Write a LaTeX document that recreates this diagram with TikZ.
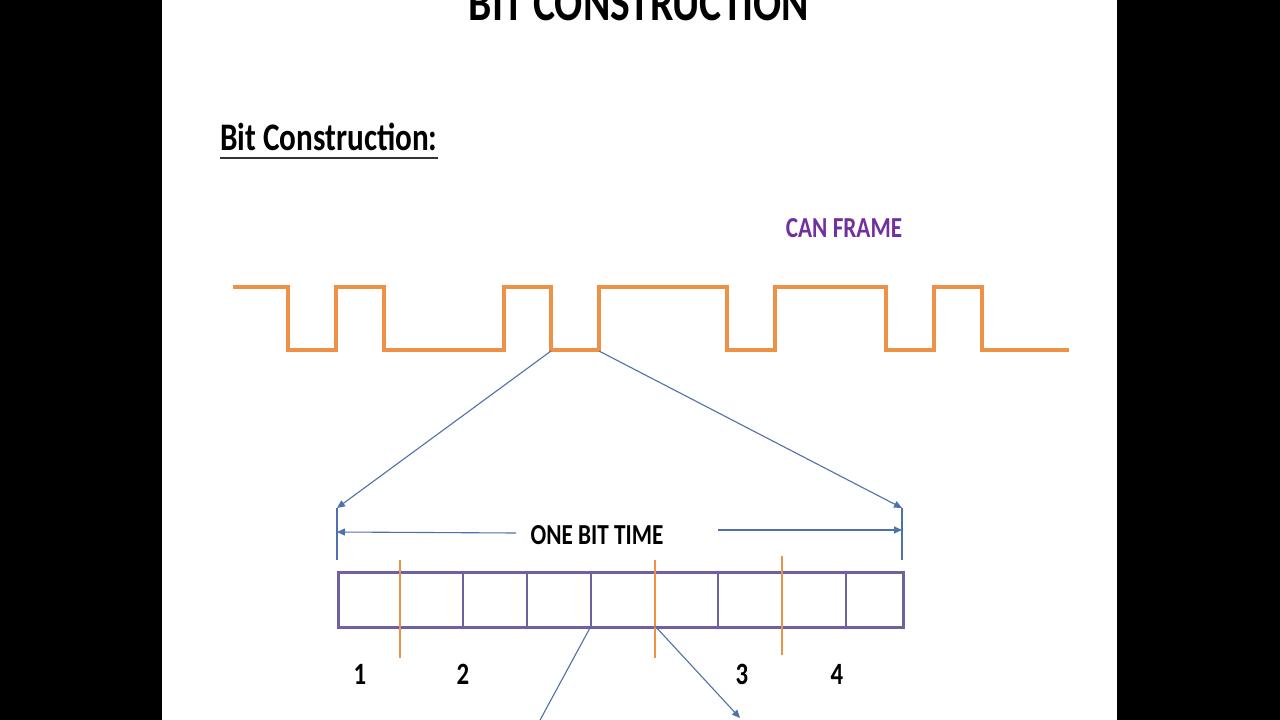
\documentclass[tikz,border=0pt]{standalone}
\usepackage{fontspec}
\setmainfont{Carlito}[FakeStretch=0.8]
\usetikzlibrary{arrows.meta,calc}
\definecolor{wave}{HTML}{ED9146}
\definecolor{conn}{HTML}{4F71AA}
\definecolor{boxc}{HTML}{7060A0}
\definecolor{canc}{HTML}{7030A0}
\tikzset{
  wavestyle/.style={draw=wave,line width=4.2pt,line join=miter},
  mark line/.style={draw=wave,line width=2.2pt},
  connline/.style={draw=conn,line width=1.1pt},
  connarrow/.style={connline,-{Triangle[length=8pt,width=7pt]}},
  cellbox/.style={draw=boxc,line width=2.8pt,minimum width=565pt,minimum height=55pt,inner sep=0pt},
  divider/.style={draw=boxc,line width=2.4pt},
  lbl/.style={font=\bfseries\fontsize{29}{33}\selectfont,inner sep=0pt,anchor=base},
  numlbl/.style={font=\bfseries\fontsize{31}{35}\selectfont,inner sep=0pt,anchor=base}
}
\begin{document}
\begin{tikzpicture}[x=1pt,y=-1pt]
\useasboundingbox (0,0) rectangle (1280,720);
\fill[black] (0,0) rectangle (1280,720);
\fill[white] (162,0) rectangle (1117,720);

% titles
\node[inner sep=0pt,anchor=base,font=\bfseries\fontsize{52}{60}\selectfont] (title) at (639,20) {BIT CONSTRUCTION};
\node[inner sep=0pt,anchor=base west,font=\bfseries\fontsize{39}{44}\selectfont] (bc) at (220,150) {Bit Construction:};
\draw[line width=2.5pt,black!80] ($(bc.base west)+(0,8)$) -- ($(bc.base east)+(0,8)$);
\node[inner sep=0pt,anchor=base,text=canc,font=\bfseries\fontsize{29}{33}\selectfont] (can) at (844,237) {CAN FRAME};

% waveform
\draw[wavestyle] (233,287) -- (288,287) -- (288,350) -- (336,350) -- (336,287) -- (384,287) -- (384,350)
  -- (504,350) -- (504,287) -- (551,287) -- (551,350) -- (599,350) -- (599,287) -- (727,287) -- (727,350)
  -- (775,350) -- (775,287) -- (886,287) -- (886,350) -- (934,350) -- (934,287) -- (982,287) -- (982,350) -- (1069,350);
\coordinate (wa) at (551,351);
\coordinate (wb) at (599,351);

% bit box
\node[cellbox,anchor=north west] (bitbox) at (337,571) {};
\foreach \x/\n in {463/d1,527/d2,591/d3,718/d4,846/d5}{
  \draw[divider] (\x,571) -- (\x,626);
  \coordinate (\n) at (\x,626);
}

% one bit time
\coordinate (tl) at (337,508);
\coordinate (tlb) at (337,560);
\coordinate (tr) at (902,508);
\coordinate (trb) at (902,560);
\draw[connline] (tl) -- (tlb);
\draw[connline] (tr) -- (trb);
\draw[connarrow] (wa) -- (tl);
\draw[connarrow] (wb) -- (tr);
\node[lbl] (obt) at (597,544) {ONE BIT TIME};
\coordinate (al) at (516,533);
\coordinate (alt) at (337,532);
\coordinate (ar) at (718,530);
\coordinate (art) at (902,530);
\draw[connarrow] (al) -- (alt);
\draw[connarrow] (ar) -- (art);

% sample marks
\draw[mark line] (400,560) -- (400,658);
\draw[mark line] (655,560) -- (655,658);
\draw[mark line] (782,556) -- (782,655);
\coordinate (m2) at (655,626);

% numbers
\node[numlbl] (n1) at (360,684) {1};
\node[numlbl] (n2) at (463,684) {2};
\node[numlbl] (n3) at (742,684) {3};
\node[numlbl] (n4) at (837,684) {4};

% lower connectors
\coordinate (lo1) at (539,722);
\coordinate (lo2) at (740,718);
\draw[connline] (d3) -- (lo1);
\draw[connarrow] (m2) -- (lo2);
\end{tikzpicture}
\end{document}
